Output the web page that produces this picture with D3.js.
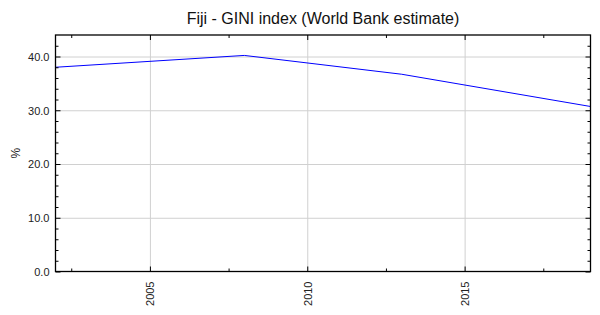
<!DOCTYPE html>
<html>
<head>
<meta charset="utf-8">
<script src="https://cdn.jsdelivr.net/npm/d3@7"></script>
<style>
  body { margin: 0; background: #fff; }
  svg { display: block; font-family: "Liberation Sans", Arial, sans-serif; }
  .domain { display: none; }
</style>
</head>
<body>
<div id="wrapper"></div>
<script>
const years = [2002, 2008, 2013, 2019]
const gini = [38.0, 40.2, 36.7, 30.7]
const xMajorTicks = [2005, 2010, 2015]
const xMinorTicks = [2002.5, 2007.5, 2012.5, 2017.5]
const yMajorTicks = [0, 10, 20, 30, 40]
const yMinorTicks = [2, 4, 6, 8, 12, 14, 16, 18, 22, 24, 26, 28, 32, 34, 36, 38, 42]
const title = "Fiji - GINI index (World Bank estimate)"

const data = years.map((y, i) => ({ year: y, value: gini[i] }))

const dimensions = {
  width: 600,
  height: 315,
  margins: { top: 35, right: 9.5, bottom: 43.5, left: 55.5 },
}
dimensions.boundedWidth = dimensions.width - dimensions.margins.left - dimensions.margins.right
dimensions.boundedHeight = dimensions.height - dimensions.margins.top - dimensions.margins.bottom

const svg = d3.select("#wrapper").append("svg")
  .attr("width", dimensions.width)
  .attr("height", dimensions.height)

const bounds = svg.append("g")
  .attr("transform", `translate(${dimensions.margins.left},${dimensions.margins.top})`)

const xScale = d3.scaleLinear().domain([2002, 2019]).range([0, dimensions.boundedWidth])
const yScale = d3.scaleLinear().domain([0, 44]).range([dimensions.boundedHeight, 0])

// grid
bounds.append("g")
  .attr("transform", `translate(0,${dimensions.boundedHeight})`)
  .call(d3.axisBottom(xScale).tickValues(xMajorTicks).tickSize(-dimensions.boundedHeight).tickFormat(""))
  .call(g => g.selectAll(".tick line").attr("stroke", "#d0d0d0"))
bounds.append("g")
  .call(d3.axisLeft(yScale).tickValues(yMajorTicks.filter(d => d > 0)).tickSize(-dimensions.boundedWidth).tickFormat(""))
  .call(g => g.selectAll(".tick line").attr("stroke", "#d0d0d0"))

// line
const lineGenerator = d3.line()
  .x(d => xScale(d.year))
  .y(d => yScale(d.value))

bounds.append("path")
  .attr("d", lineGenerator(data))
  .attr("fill", "none")
  .attr("stroke", "#0000ff")
  .attr("stroke-width", 1)

// inward ticks on all four sides
const tickAxis = (axisFn, scale, values, size, transform) => {
  bounds.append("g")
    .attr("transform", transform)
    .call(axisFn(scale).tickValues(values).tickSize(size).tickFormat(""))
    .call(g => g.selectAll(".tick line").attr("stroke", "#000"))
}
const bh = dimensions.boundedHeight, bw = dimensions.boundedWidth
tickAxis(d3.axisBottom, xScale, xMajorTicks, -5, `translate(0,${bh})`)
tickAxis(d3.axisBottom, xScale, xMinorTicks, -3, `translate(0,${bh})`)
tickAxis(d3.axisTop, xScale, xMajorTicks, -5, `translate(0,0)`)
tickAxis(d3.axisTop, xScale, xMinorTicks, -3, `translate(0,0)`)
tickAxis(d3.axisLeft, yScale, yMajorTicks, -5, `translate(0,0)`)
tickAxis(d3.axisLeft, yScale, yMinorTicks, -3, `translate(0,0)`)
tickAxis(d3.axisRight, yScale, yMajorTicks, -5, `translate(${bw},0)`)
tickAxis(d3.axisRight, yScale, yMinorTicks, -3, `translate(${bw},0)`)

// frame
bounds.append("rect")
  .attr("width", bw)
  .attr("height", bh)
  .attr("fill", "none")
  .attr("stroke", "#000")
  .attr("stroke-width", 1.3)

// labels
const yAxis = bounds.append("g")
  .call(d3.axisLeft(yScale).tickValues(yMajorTicks).tickSize(0).tickPadding(6).tickFormat(d3.format(".1f")))
yAxis.selectAll("text")
  .attr("font-size", 11)
  .attr("font-family", "Liberation Sans, Arial, sans-serif")
  .attr("fill", "#222")
  .attr("dy", "0.36em")

const xAxis = bounds.append("g")
  .attr("transform", `translate(0,${bh})`)
  .call(d3.axisBottom(xScale).tickValues(xMajorTicks).tickSize(0).tickFormat(d3.format("d")))
xAxis.selectAll("text")
  .attr("font-size", 11)
  .attr("font-family", "Liberation Sans, Arial, sans-serif")
  .attr("fill", "#222")
  .attr("transform", "rotate(-90)")
  .attr("text-anchor", "end")
  .attr("x", -10)
  .attr("y", 0)
  .attr("dy", "0.35em")

svg.append("text")
  .attr("x", dimensions.margins.left + bw / 2)
  .attr("y", 24)
  .attr("text-anchor", "middle")
  .attr("font-size", 16)
  .attr("fill", "#111")
  .text(title)

svg.append("text")
  .attr("transform", `translate(20,${dimensions.margins.top + bh / 2}) rotate(-90)`)
  .attr("text-anchor", "middle")
  .attr("font-size", 12)
  .attr("fill", "#222")
  .text("%")
</script>
</body>
</html>
